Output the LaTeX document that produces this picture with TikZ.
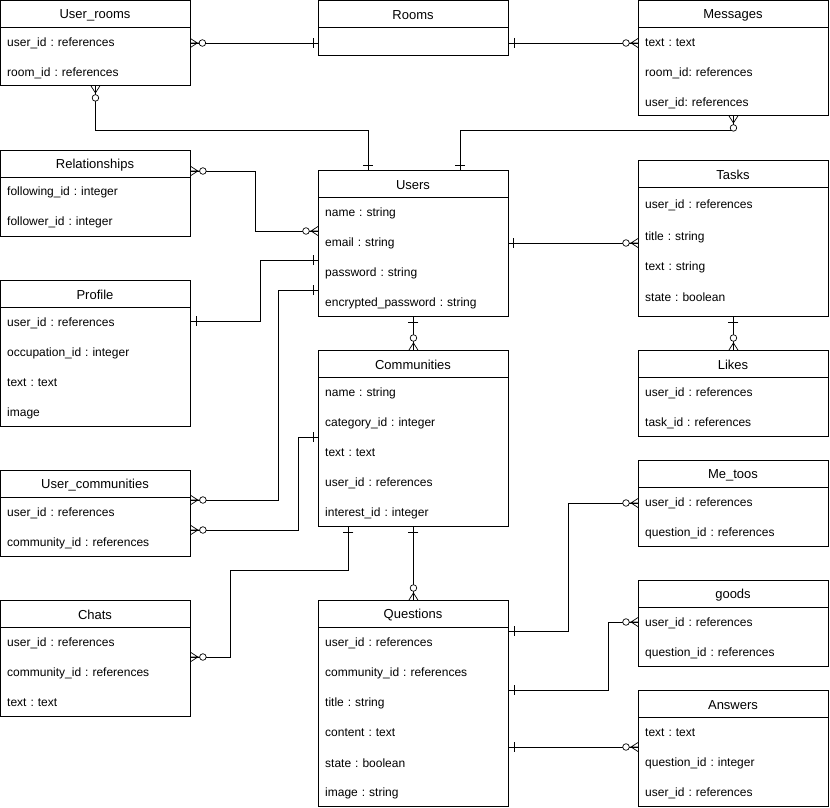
\documentclass[tikz,border=0pt]{standalone}
\usepackage{fontspec}
\setmainfont{Liberation Sans}
\usetikzlibrary{calc}
\frenchspacing
\tikzset{
 tb/.style={draw,line width=0.9pt,minimum width=190pt,inner sep=0pt},
 hd/.style={font=\fontsize{13}{14}\selectfont,inner sep=0pt,yshift=-1.5pt},
 rw/.style={font=\fontsize{12}{13}\selectfont\frenchspacing,text width=176pt,inner xsep=7pt,inner ysep=0pt,align=left,yshift=-1pt},
 ln/.style={line width=0.9pt},
 zm/.pic={\draw[line width=0.7pt] (0,-4.5)--(7,0)--(0,4.5) (0,0)--(8.5,0); \draw[line width=0.7pt,fill=white] (12,0) circle (3.3);},
 one/.pic={\draw[line width=0.8pt] (5,-5)--(5,5);}
}
\newcommand\tbl[6]{\node[tb,minimum height=#4pt,anchor=north west] (#1) at (#2,#3) {};
 \draw[line width=0.9pt] (#2,#3+#5)--(#2+190,#3+#5);
 \node[hd] (#1h) at (#2+95,#3+#5/2) {#6};}
\newcommand\rw[4]{\node[rw,anchor=west] (#1) at (#2,#3) {#4};}
\begin{document}
\begin{tikzpicture}[x=1pt,y=-1pt]
\useasboundingbox (0,0) rectangle (830,808);
\tbl{ur}{0}{0}{85}{27}{User\_rooms}
\rw{ur1}{0}{42}{user\_id : references}
\rw{ur2}{0}{72}{room\_id : references}
\tbl{rooms}{318}{0}{55}{27}{Rooms}
\tbl{msg}{638}{0}{115}{27}{Messages}
\rw{msg1}{638}{42}{text : text}
\rw{msg2}{638}{72}{room\_id: references}
\rw{msg3}{638}{102}{user\_id: references}
\tbl{rel}{0}{150}{86}{27}{Relationships}
\rw{rel1}{0}{191}{following\_id : integer}
\rw{rel2}{0}{221}{follower\_id : integer}
\tbl{users}{318}{170}{146}{27}{Users}
\rw{users1}{318}{212}{name : string}
\rw{users2}{318}{242}{email : string}
\rw{users3}{318}{272}{password : string}
\rw{users4}{318}{302}{encrypted\_password : string}
\tbl{tasks}{638}{160}{156}{27}{Tasks}
\rw{tasks1}{638}{204}{user\_id : references}
\rw{tasks2}{638}{236}{title : string}
\rw{tasks3}{638}{266}{text : string}
\rw{tasks4}{638}{296}{state : boolean}
\tbl{prof}{0}{280}{146}{27}{Profile}
\rw{prof1}{0}{322}{user\_id : references}
\rw{prof2}{0}{352}{occupation\_id : integer}
\rw{prof3}{0}{382}{text : text}
\rw{prof4}{0}{412}{image}
\tbl{comm}{318}{350}{176}{27}{Communities}
\rw{comm1}{318}{392}{name : string}
\rw{comm2}{318}{422}{category\_id : integer}
\rw{comm3}{318}{452}{text : text}
\rw{comm4}{318}{482}{user\_id : references}
\rw{comm5}{318}{512}{interest\_id : integer}
\tbl{likes}{638}{350}{86}{27}{Likes}
\rw{likes1}{638}{392}{user\_id : references}
\rw{likes2}{638}{422}{task\_id : references}
\tbl{uc}{0}{470}{86}{27}{User\_communities}
\rw{uc1}{0}{512}{user\_id : references}
\rw{uc2}{0}{542}{community\_id : references}
\tbl{me}{638}{460}{86}{27}{Me\_toos}
\rw{me1}{638}{502}{user\_id : references}
\rw{me2}{638}{532}{question\_id : references}
\tbl{chats}{0}{600}{116}{27}{Chats}
\rw{chats1}{0}{642}{user\_id : references}
\rw{chats2}{0}{672}{community\_id : references}
\rw{chats3}{0}{702}{text : text}
\tbl{q}{318}{600}{206}{27}{Questions}
\rw{q1}{318}{642}{user\_id : references}
\rw{q2}{318}{672}{community\_id : references}
\rw{q3}{318}{702}{title : string}
\rw{q4}{318}{732}{content : text}
\rw{q5}{318}{762}{state : boolean}
\rw{q6}{318}{792}{image : string}
\tbl{goods}{638}{580}{86}{27}{goods}
\rw{goods1}{638}{622}{user\_id : references}
\rw{goods2}{638}{652}{question\_id : references}
\tbl{ans}{638}{690}{116}{27}{Answers}
\rw{ans1}{638}{732}{text : text}
\rw{ans2}{638}{762}{question\_id : integer}
\rw{ans3}{638}{792}{user\_id : references}
% connectors
\draw[ln] (ur1.east) -- (rooms.west |- ur1.east);
\pic at (ur1.east) {zm}; \pic[rotate=180] at (rooms.west |- ur1.east) {one};
\draw[ln] (rooms.east |- msg1.west) -- (msg1.west);
\pic at (rooms.east |- msg1.west) {one}; \pic[rotate=180] at (msg1.west) {zm};
\coordinate (uA) at ($(users.north)+(-45,0)$);
\coordinate (uB) at ($(users.north)+(47,0)$);
\draw[ln] (ur.south) |- ($(uA)+(0,-40)$) -- (uA);
\pic[rotate=-90] at (ur.south) {zm}; \pic[rotate=90] at (uA) {one};
\draw[ln] (msg.south) |- ($(uB)+(0,-40)$) -- (uB);
\pic[rotate=-90] at (msg.south) {zm}; \pic[rotate=90] at (uB) {one};
\coordinate (rA) at ($(rel.north east)+(0,21)$);
\coordinate (usA) at ($(users.north west)+(0,61)$);
\draw[ln] (rA) -- ++(65,0) |- (usA);
\pic at (rA) {zm}; \pic[rotate=180] at (usA) {zm};
\draw[ln] (users2.east) -- (tasks.west |- users2.east);
\pic at (users2.east) {one}; \pic[rotate=180] at (tasks.west |- users2.east) {zm};
\coordinate (pA) at ($(prof.north east)+(0,41)$);
\coordinate (usB) at ($(users.north west)+(0,90)$);
\draw[ln] (pA) -- ++(70,0) |- (usB);
\pic at (pA) {one}; \pic[rotate=180] at (usB) {one};
\draw[ln] (users.south) -- (comm.north);
\pic[rotate=-90] at (users.south) {one}; \pic[rotate=90] at (comm.north) {zm};
\draw[ln] (tasks.south) -- (likes.north);
\pic[rotate=-90] at (tasks.south) {one}; \pic[rotate=90] at (likes.north) {zm};
\coordinate (ucA) at ($(uc.north east)+(0,30)$);
\coordinate (usC) at ($(users.north west)+(0,120)$);
\draw[ln] (ucA) -- ++(88,0) |- (usC);
\pic at (ucA) {zm}; \pic[rotate=180] at (usC) {one};
\coordinate (ucB) at ($(uc.north east)+(0,60)$);
\coordinate (cmA) at ($(comm.north west)+(0,87)$);
\draw[ln] (ucB) -- ++(108,0) |- (cmA);
\pic at (ucB) {zm}; \pic[rotate=180] at (cmA) {one};
\coordinate (cmB) at ($(comm.south)+(-65,0)$);
\coordinate (chA) at ($(chats.north east)+(0,57)$);
\draw[ln] (cmB) -- ++(0,44) -| ($(chA)+(40,0)$) -- (chA);
\pic[rotate=-90] at (cmB) {one}; \pic at (chA) {zm};
\draw[ln] (comm.south) -- (q.north);
\pic[rotate=-90] at (comm.south) {one}; \pic[rotate=90] at (q.north) {zm};
\coordinate (qA) at ($(q.north east)+(0,31)$);
\coordinate (meA) at ($(me.north west)+(0,43)$);
\draw[ln] (qA) -- ++(60,0) |- (meA);
\pic at (qA) {one}; \pic[rotate=180] at (meA) {zm};
\coordinate (qB) at ($(q.north east)+(0,90)$);
\coordinate (gA) at ($(goods.north west)+(0,42)$);
\draw[ln] (qB) -- ++(100,0) |- (gA);
\pic at (qB) {one}; \pic[rotate=180] at (gA) {zm};
\coordinate (qC) at ($(q.north east)+(0,147)$);
\draw[ln] (qC) -- (ans.west |- qC);
\pic at (qC) {one}; \pic[rotate=180] at (ans.west |- qC) {zm};
\end{tikzpicture}
\end{document}
